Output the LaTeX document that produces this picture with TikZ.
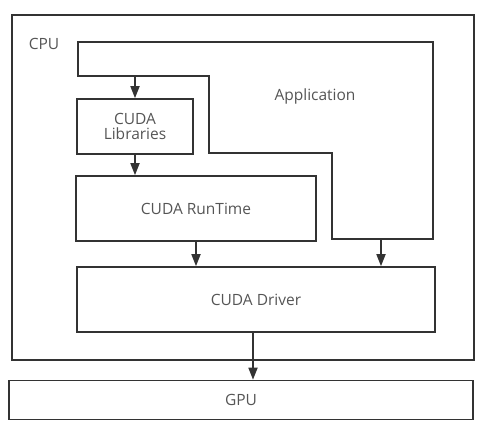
\documentclass[tikz,border=0pt]{standalone}
\usepackage{fontspec}
\setmainfont{Open Sans}
\usepackage{xcolor}
\usetikzlibrary{arrows.meta}

\definecolor{linegray}{HTML}{333333}
\definecolor{textgray}{HTML}{555555}

\tikzset{
  layer/.style = {draw=linegray, line width=1.7pt, text=textgray, align=center, inner sep=0pt},
  call/.style = {draw=linegray, line width=1.7pt, -{Triangle[length=12pt,width=9pt]}}
}

\begin{document}
\begin{tikzpicture}[x=1pt, y=-1pt, font=\fontsize{15.5}{18}\selectfont]
\useasboundingbox (0,0) rectangle (486,433);

% host side
\node (cpu) at (243,187.5) [layer, minimum width=462pt, minimum height=345pt]{};
\node (cpulabel) at (44,44) [text=textgray]{CPU};

% application
\draw [draw=linegray, line width=1.7pt]
  (78,42) -- (433,42) -- (433,239) -- (332,239) -- (332,153)
  -- (209,153) -- (209,76) -- (78,76) -- cycle;
\node (app) at (315,96) [text=textgray]{Application};
\coordinate (applib) at (135,76);
\coordinate (appdrv) at (381,239);

% cuda stack
\node (lib) at (135,126.5) [layer, minimum width=116pt, minimum height=55pt]{CUDA\\[-3pt]Libraries};
\node (rt) at (196,208.5) [layer, minimum width=240pt, minimum height=65pt]{CUDA RunTime};
\node (drv) at (256,299.5) [layer, minimum width=358pt, minimum height=65pt]{CUDA Driver};
\coordinate (drvout) at (253,332);

% device
\node (gpu) at (241,400) [layer, minimum width=464pt, minimum height=39pt]{GPU};

% calls
\draw [call] (applib) -- (lib.north);
\draw [call] (lib.south) -- (lib.south |- rt.north);
\draw [call] (rt.south) -- (rt.south |- drv.north);
\draw [call] (appdrv) -- (appdrv |- drv.north);
\draw [call] (drvout) -- (drvout |- gpu.north);

\end{tikzpicture}
\end{document}
